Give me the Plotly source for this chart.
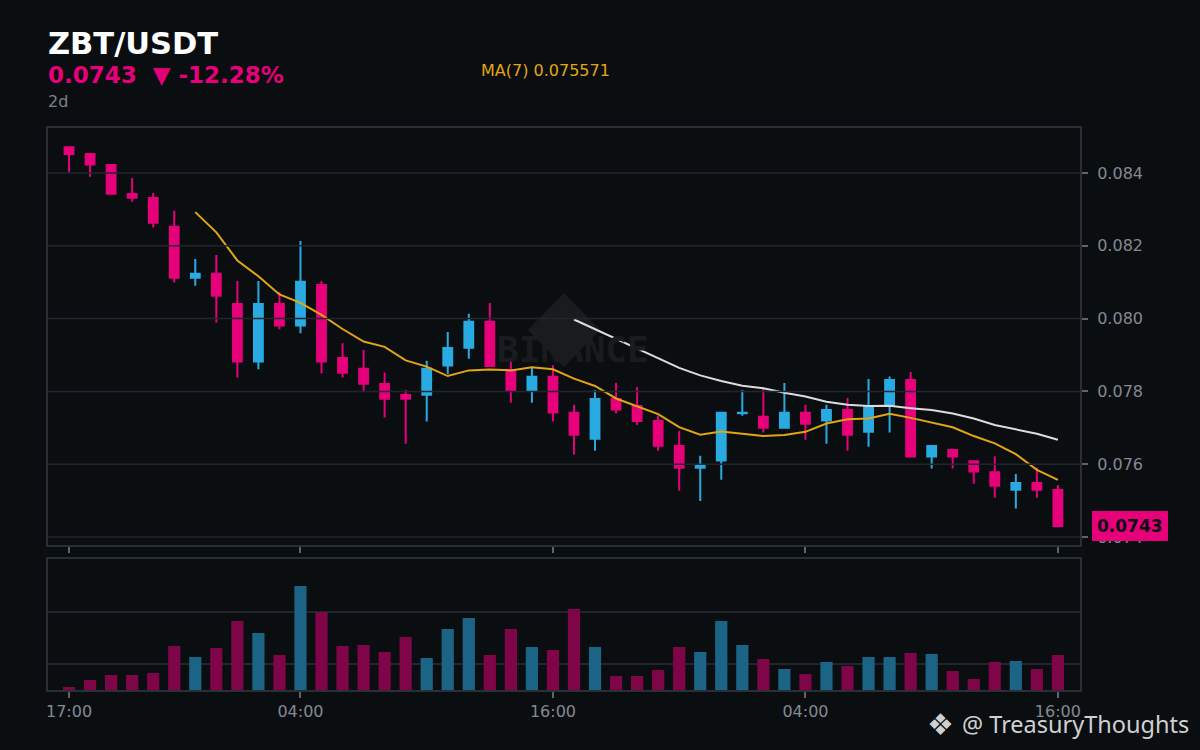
import plotly.graph_objects as go
import pandas as pd

# hourly candles, 17:00 -> 16:00 two days later
times = pd.date_range("2025-07-14 17:00", periods=48, freq="h")

opens = [0.08471, 0.08452, 0.08422, 0.08342, 0.08331, 0.08252, 0.08112, 0.08123,
         0.08040, 0.07882, 0.08040, 0.07981, 0.08092, 0.07892, 0.07862, 0.07820,
         0.07790, 0.07791, 0.07871, 0.07920, 0.07991, 0.07859, 0.07802, 0.07840,
         0.07741, 0.07670, 0.07779, 0.07760, 0.07719, 0.07650, 0.07590, 0.07610,
         0.07740, 0.07730, 0.07700, 0.07741, 0.07720, 0.07749, 0.07689, 0.07760,
         0.07831, 0.07621, 0.07639, 0.07608, 0.07578, 0.07530, 0.07548, 0.07529]
highs = [0.08474, 0.08455, 0.08425, 0.08386, 0.08345, 0.08296, 0.08164, 0.08175,
         0.08103, 0.08103, 0.08073, 0.08213, 0.08103, 0.07932, 0.07914, 0.07852,
         0.07804, 0.07884, 0.07963, 0.08013, 0.08043, 0.07884, 0.07864, 0.07872,
         0.07763, 0.07804, 0.07823, 0.07812, 0.07733, 0.07691, 0.07623, 0.07743,
         0.07804, 0.07807, 0.07823, 0.07763, 0.07763, 0.07782, 0.07834, 0.07841,
         0.07853, 0.07652, 0.07642, 0.07611, 0.07622, 0.07573, 0.07591, 0.07543]
lows = [0.08402, 0.08390, 0.08340, 0.08321, 0.08250, 0.08099, 0.08090, 0.07989,
        0.07838, 0.07861, 0.07971, 0.07960, 0.07849, 0.07838, 0.07799, 0.07728,
        0.07656, 0.07717, 0.07848, 0.07890, 0.07868, 0.07769, 0.07769, 0.07717,
        0.07626, 0.07637, 0.07739, 0.07708, 0.07637, 0.07527, 0.07499, 0.07557,
        0.07733, 0.07687, 0.07698, 0.07667, 0.07656, 0.07637, 0.07648, 0.07687,
        0.07619, 0.07588, 0.07588, 0.07546, 0.07508, 0.07478, 0.07508, 0.07426]
closes = [0.08452, 0.08423, 0.08343, 0.08332, 0.08263, 0.08112, 0.08123, 0.08063,
          0.07882, 0.08040, 0.07981, 0.08101, 0.07882, 0.07851, 0.07821, 0.07780,
          0.07780, 0.07862, 0.07919, 0.07991, 0.07870, 0.07802, 0.07840, 0.07742,
          0.07681, 0.07779, 0.07750, 0.07719, 0.07651, 0.07590, 0.07598, 0.07741,
          0.07741, 0.07700, 0.07741, 0.07711, 0.07749, 0.07681, 0.07757, 0.07831,
          0.07621, 0.07650, 0.07621, 0.07580, 0.07541, 0.07548, 0.07530, 0.07430]
volumes = [3, 10, 15, 15, 17, 44, 33, 42, 69, 57, 35, 104, 78, 44, 45, 38,
           53, 32, 61, 72, 35, 61, 43, 40, 81, 43, 14, 14, 20, 43, 38, 69,
           45, 31, 21, 16, 28, 24, 33, 33, 37, 36, 19, 11, 28, 29, 21, 35]

price_ticks = [0.074, 0.076, 0.078, 0.080, 0.082, 0.084]
tick_times = [times[0], times[11], times[23], times[35], times[47]]
tick_labels = ["17:00", "04:00", "16:00", "04:00", "16:00"]

BG = '#0b0e11'
PINK = '#e6007a'
BLUE = '#29abe2'
GRID = '#22262c'
FRAME = '#2a2e35'
TICK = '#848991'
FONT = 'DejaVu Sans'

close_s = pd.Series(closes)
ma7 = close_s.rolling(7).mean()
ma25 = close_s.rolling(25).mean()

vol_colors = ['#1b6485' if c > o else '#7f0549' for o, c in zip(opens, closes)]

candles = go.Candlestick(
    x=times, open=opens, high=highs, low=lows, close=closes,
    increasing=dict(line=dict(color=BLUE, width=2), fillcolor=BLUE),
    decreasing=dict(line=dict(color=PINK, width=2), fillcolor=PINK),
    whiskerwidth=0,
    xaxis='x', yaxis='y', showlegend=False,
)
line_ma7 = go.Scatter(x=times, y=ma7, mode='lines',
                      line=dict(color='#e2a514', width=2),
                      xaxis='x', yaxis='y', showlegend=False)
line_ma25 = go.Scatter(x=times, y=ma25, mode='lines',
                       line=dict(color='#dcdce0', width=2),
                       xaxis='x', yaxis='y', showlegend=False)
vol = go.Bar(x=times, y=volumes, marker=dict(color=vol_colors, line=dict(width=0)),
             xaxis='x2', yaxis='y2', showlegend=False)

x_range = [times[0] - pd.Timedelta(hours=1), times[-1] + pd.Timedelta(minutes=63)]

layout = go.Layout(
    width=1200, height=750,
    paper_bgcolor=BG, plot_bgcolor='rgba(0,0,0,0)',
    margin=dict(l=48, r=120, t=128, b=60),
    font=dict(family=FONT, color=TICK, size=16),
    boxgap=0.4, bargap=0.42,
    xaxis=dict(
        domain=[0, 1], anchor='y', range=x_range,
        rangeslider=dict(visible=False),
        tickvals=tick_times, showticklabels=False,
        ticks='outside', ticklen=6, tickwidth=2, tickcolor='#5f646c',
        showgrid=False, zeroline=False,
        showline=True, mirror=True, linecolor=FRAME, linewidth=2,
    ),
    yaxis=dict(
        domain=[0.258, 1], anchor='x', side='right',
        range=[0.07378, 0.085236],
        tickvals=price_ticks, tickformat='.3f',
        ticks='outside', ticklen=6, tickwidth=2, tickcolor='#5f646c',
        tickfont=dict(size=16, color=TICK), ticklabelstandoff=6,
        showgrid=False, zeroline=False,
        showline=True, mirror=True, linecolor=FRAME, linewidth=2,
    ),
    xaxis2=dict(
        domain=[0, 1], anchor='y2', matches='x',
        tickvals=tick_times, ticktext=tick_labels,
        ticks='outside', ticklen=6, tickwidth=2, tickcolor='#5f646c',
        tickfont=dict(size=16, color=TICK),
        showgrid=False, zeroline=False,
        showline=True, mirror=True, linecolor=FRAME, linewidth=2,
    ),
    yaxis2=dict(
        domain=[0, 0.2331], anchor='x2', range=[0, 131],
        tickvals=[26, 78], showticklabels=False,
        showgrid=True, gridcolor=GRID, gridwidth=1.5, zeroline=False,
        showline=True, mirror=True, linecolor=FRAME, linewidth=2,
    ),
)

fig = go.Figure(data=[vol, candles, line_ma25, line_ma7], layout=layout)

# price grid drawn over the candles, as in the source
for v in price_ticks:
    fig.add_shape(type='line', xref='paper', yref='y', x0=0, x1=1, y0=v, y1=v,
                  line=dict(color=GRID, width=1.5), layer='above')

# faint exchange watermark
cx, cy, dx, dy = 0.5, 0.6406, 0.0349, 0.0658
fig.add_shape(type='path', xref='paper', yref='paper', layer='below',
              path=f'M {cx},{cy + dy} L {cx + dx},{cy} L {cx},{cy - dy} L {cx - dx},{cy} Z',
              fillcolor='rgba(255,255,255,0.06)', line=dict(width=0))
fig.add_annotation(text='<b>BINANCE</b>', xref='paper', yref='paper', x=0.5087, y=0.605,
                   showarrow=False, font=dict(family='DejaVu Sans Mono', size=36, color='#191b1f'))

# header
fig.add_annotation(text='<b>ZBT/USDT</b>', xref='paper', yref='paper', x=-0.002, y=1.1512,
                   xanchor='left', yanchor='middle', showarrow=False,
                   font=dict(size=30.5, color='#ffffff'))
fig.add_annotation(text='<b>0.0743&nbsp; ▼ -12.28%</b>', xref='paper', yref='paper',
                   x=-0.002, y=1.0943, xanchor='left', yanchor='middle', showarrow=False,
                   font=dict(size=23, color=PINK))
fig.add_annotation(text='2d', xref='paper', yref='paper', x=-0.002, y=1.0463,
                   xanchor='left', yanchor='middle', showarrow=False,
                   font=dict(size=16, color='#7d828a'))
fig.add_annotation(text='MA(7) 0.075571', xref='paper', yref='paper', x=0.4825, y=1.1032,
                   xanchor='center', yanchor='middle', showarrow=False,
                   font=dict(size=16, color='#e2a514'))

# last price tag
fig.add_annotation(text='<b>0.0743</b>', xref='paper', yref='y', x=1.0116, y=closes[-1],
                   xanchor='left', yanchor='middle', showarrow=False,
                   bgcolor=PINK, bordercolor=PINK, borderpad=4,
                   font=dict(size=17, color='#0b0e11'))

# handle watermark
fig.add_annotation(text='❖', xref='paper', yref='paper', x=0.865, y=-0.0605,
                   xanchor='center', yanchor='middle', showarrow=False,
                   font=dict(family='DejaVu Sans', size=30, color='#cfd0d2'))
fig.add_annotation(text='@ TreasuryThoughts', xref='paper', yref='paper', x=0.8837, y=-0.0605,
                   xanchor='left', yanchor='middle', showarrow=False,
                   font=dict(family='Noto Sans', size=23.5, color='#cfd0d2'))

fig.write_html("out.html",
               config={'displayModeBar': False},
               post_script="document.body.style.margin='0';"
                           "document.body.style.background='#0b0e11';")
